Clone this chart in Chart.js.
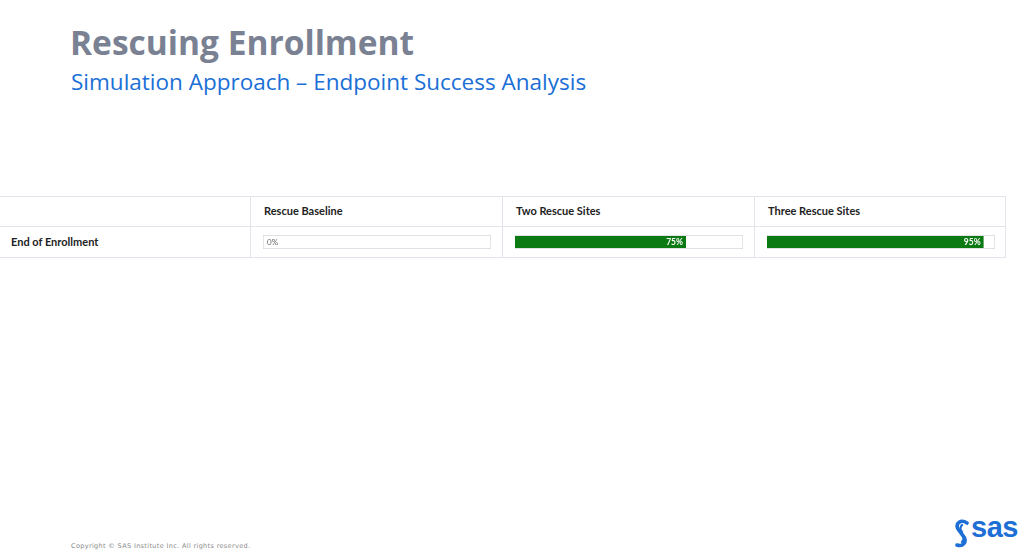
<!DOCTYPE html>
<html>
<head>
<meta charset="utf-8">
<script src="https://cdn.jsdelivr.net/npm/chart.js@4.4.1/dist/chart.umd.min.js"></script>
<style>
  html, body { margin:0; padding:0; background:#fff; width:1024px; height:552px; overflow:hidden; }
  body { position:relative; font-family: Lato, "Open Sans", sans-serif; }
  #title { position:absolute; left:70px; top:19px; font-family:"Open Sans", sans-serif; font-weight:700; font-size:33.5px; color:#7a8193; white-space:nowrap; }
  #subtitle { position:absolute; left:71px; top:66px; font-family:"Open Sans", sans-serif; font-weight:400; font-size:22.5px; color:#1a6fd6; white-space:nowrap; }
  .hl { position:absolute; height:1px; background:#e1e4ea; }
  .vl { position:absolute; width:1px; background:#e1e4ea; }
  .hdr { position:absolute; top:204px; font-size:11px; font-weight:700; color:#222; white-space:nowrap; }
  .rowlbl { position:absolute; left:11px; top:235px; font-size:11px; font-weight:700; color:#222; white-space:nowrap; }
  .cell { position:absolute; top:235px; width:228px; height:14px; }
  #copy { position:absolute; left:71px; top:542px; font-size:6.5px; letter-spacing:0.35px; color:#8a8a8a; white-space:nowrap; font-family:"DejaVu Sans", sans-serif; }
  #logo { position:absolute; left:953px; top:517px; height:32px; }
  #logo svg { position:absolute; left:0; top:2px; }
  #logotext { position:absolute; left:18px; top:-6px; font-family:"Liberation Sans", Arial, sans-serif; font-weight:700; font-size:29px; color:#1d6fd6; letter-spacing:-0.5px; }
</style>
</head>
<body>
<div id="title">Rescuing Enrollment</div>
<div id="subtitle">Simulation Approach – Endpoint Success Analysis</div>

<div id="table"></div>

<div id="copy">Copyright © SAS Institute Inc. All rights reserved.</div>
<div id="logo">
  <svg width="19" height="30" viewBox="0 0 19 30">
    <path d="M14 4 C8 0 2 4 5 10 L11 18 C14 23 10 28 4 26" fill="none" stroke="#1d6fd6" stroke-width="3.6" stroke-linecap="round"/>
    <path d="M9 6 C7 8 7 11 9 13" fill="none" stroke="#1d6fd6" stroke-width="2.4" stroke-linecap="round"/>
    <path d="M9 16 C11 18 11 21 9 23" fill="none" stroke="#1d6fd6" stroke-width="2.4" stroke-linecap="round"/>
  </svg>
  <div id="logotext">sas</div>
</div>

<script>
// ---- data ----
const columns = ['Rescue Baseline', 'Two Rescue Sites', 'Three Rescue Sites'];
const rowLabels = ['End of Enrollment'];
const successPct = [0, 75, 95];
const trackMax = 100;

// ---- layout of table ----
const table = document.getElementById('table');
const colLefts = [250, 502, 754];
const tableRight = 1005;
function addLine(cls, l, t, w, h) {
  const d = document.createElement('div');
  d.className = cls;
  d.style.left = l + 'px'; d.style.top = t + 'px';
  if (w) d.style.width = w + 'px';
  if (h) d.style.height = h + 'px';
  table.appendChild(d);
}
[196, 226, 257].forEach(y => addLine('hl', 0, y, tableRight + 1, 0));
colLefts.concat([tableRight]).forEach(x => addLine('vl', x, 196, 0, 62));

const rl = document.createElement('div');
rl.className = 'rowlbl';
rl.textContent = rowLabels[0];
table.appendChild(rl);

const labelPlugin = {
  id: 'barLabel',
  afterDatasetsDraw(chart) {
    const ctx = chart.ctx;
    const meta = chart.getDatasetMeta(1);
    const el = meta.data[0];
    const v = chart.data.datasets[1].data[0];
    ctx.save();
    ctx.textBaseline = 'middle';
    if (v > 10) {
      ctx.font = '700 8.5px Lato, sans-serif';
      ctx.fillStyle = '#ffffff';
      ctx.textAlign = 'right';
      ctx.fillText(v + '%', el.x - 3, el.y + 0.5);
    } else {
      ctx.font = '400 8px Lato, sans-serif';
      ctx.fillStyle = '#666666';
      ctx.textAlign = 'left';
      ctx.fillText(v + '%', el.x + 4, el.y + 0.5);
    }
    ctx.restore();
  }
};

columns.forEach((name, i) => {
  const h = document.createElement('div');
  h.className = 'hdr';
  h.style.left = (colLefts[i] + 14) + 'px';
  h.textContent = name;
  table.appendChild(h);

  const cell = document.createElement('div');
  cell.className = 'cell';
  cell.style.left = (colLefts[i] + 13) + 'px';
  const cv = document.createElement('canvas');
  cell.appendChild(cv);
  table.appendChild(cell);

  new Chart(cv, {
    type: 'bar',
    data: {
      labels: [rowLabels[0]],
      datasets: [
        { data: [trackMax], backgroundColor: '#ffffff', borderColor: '#d5d9df', borderWidth: 1,
          borderSkipped: false, barPercentage: 1, categoryPercentage: 1, grouped: false, order: 2 },
        { data: [successPct[i]], backgroundColor: '#0b7a13', borderWidth: 0,
          barPercentage: 0.86, categoryPercentage: 1, grouped: false, order: 1 }
      ]
    },
    options: {
      indexAxis: 'y',
      responsive: true,
      maintainAspectRatio: false,
      animation: false,
      layout: { padding: 0 },
      scales: {
        x: { display: false, min: 0, max: trackMax },
        y: { display: false }
      },
      plugins: { legend: { display: false }, tooltip: { enabled: false } }
    },
    plugins: [labelPlugin]
  });
});
</script>
</body>
</html>
